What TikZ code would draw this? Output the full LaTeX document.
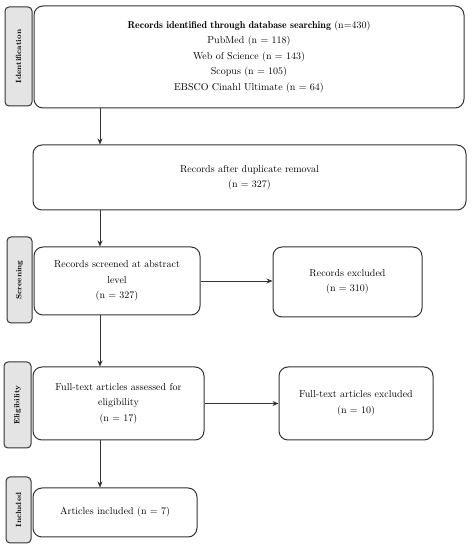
\documentclass[tikz,border=0pt]{standalone}
\usetikzlibrary{arrows.meta}
\definecolor{edgec}{HTML}{333333}
\definecolor{labfill}{HTML}{E4E4E4}
\begin{document}
\begin{tikzpicture}[x=1pt,y=1pt,
  box/.style={draw=edgec,line width=1pt,rounded corners=9pt,fill=white,align=center,inner sep=2pt,font=\fontsize{10}{15.5}\selectfont},
  lab/.style={draw=edgec,line width=1pt,rounded corners=4pt,fill=labfill,rotate=90,inner sep=0pt,font=\bfseries\fontsize{7.5}{9}\selectfont},
  arr/.style={draw=edgec,line width=0.7pt,-{Stealth[length=6pt,width=5pt]}}]
\useasboundingbox (0,0) rectangle (473,550);
% main boxes
\node[box,minimum width=430pt,minimum height=102pt] (ident) at (249,493)
  {{\fontseries{b}\selectfont Records identified through database searching} (n=430)\\ PubMed (n = 118)\\ Web of Science (n = 143)\\ Scopus (n = 105)\\ EBSCO Cinahl Ultimate (n = 64)};
\node[box,minimum width=433pt,minimum height=65pt] (dup) at (249.5,372.5)
  {Records after duplicate removal\\ (n = 327)};
\node[box,minimum width=166pt,minimum height=68pt] (screen) at (117,269)
  {Records screened at abstract\\ level\\ (n = 327)};
\node[box,minimum width=149pt,minimum height=70pt] (excl) at (347.5,268)
  {Records excluded\\ (n = 310)};
\node[box,minimum width=171pt,minimum height=73pt] (full) at (118.5,146.5)
  {Full-text articles assessed for\\ eligibility\\ (n = 17)};
\node[box,minimum width=154pt,minimum height=73pt] (fexcl) at (356,146.5)
  {Full-text articles excluded\\ (n = 10)};
\node[box,minimum width=164pt,minimum height=49pt] (incl) at (115,37.5)
  {Articles included (n = 7)};
% side labels
\node[lab,minimum width=99pt,minimum height=27pt] (idl) at (18.5,493.5) {Identification};
\node[lab,minimum width=86pt,minimum height=25pt] (scl) at (19.5,270) {Screening};
\node[lab,minimum width=86pt,minimum height=27pt] (ell) at (17.5,145) {Eligibility};
\node[lab,minimum width=66pt,minimum height=25pt] (inl) at (18.5,40) {Included};
% connectors
\coordinate (xl) at (100,0);
\draw[arr] (ident.south -| xl) -- (dup.north -| xl);
\draw[arr] (dup.south -| xl) -- (screen.north -| xl);
\draw[arr] (screen.south -| xl) -- (full.north -| xl);
\draw[arr] (full.south -| xl) -- (incl.north -| xl);
\draw[arr] (screen.east) -- (screen.east -| excl.west);
\draw[arr] (full.east) -- (full.east -| fexcl.west);
\end{tikzpicture}
\end{document}
